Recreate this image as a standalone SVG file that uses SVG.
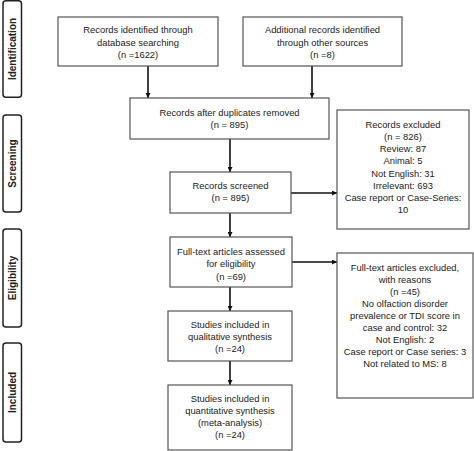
<svg xmlns="http://www.w3.org/2000/svg" width="474" height="451" viewBox="0 0 474 451">
<style>
.box{fill:#fff;stroke:#555;stroke-width:1.2}
.side{fill:#fff;stroke:#222;stroke-width:1.5}
.t{font-family:"Liberation Sans",Arial,sans-serif;font-size:9.4px;fill:#222;text-anchor:middle}
.st{font-family:"Liberation Sans",Arial,sans-serif;font-size:10px;font-weight:bold;fill:#222;text-anchor:middle}
.c{stroke:#111;stroke-width:1.6;fill:none;marker-end:url(#ah)}
</style>
<defs>
<marker id="ah" viewBox="0 0 10 10" refX="10" refY="5" markerWidth="5" markerHeight="5" markerUnits="userSpaceOnUse" orient="auto">
<path d="M0,0 L10,5 L0,10 z" fill="#111"/>
</marker>
</defs>
<rect width="474" height="451" fill="#fff"/>
<g id="side-identification"><rect class="side" x="3" y="0.8" width="18.5" height="96.5" rx="3"/><text class="st" transform="translate(15.5,49) rotate(-90)">Identification</text></g>
<g id="side-screening"><rect class="side" x="3" y="115" width="18.5" height="97" rx="3"/><text class="st" transform="translate(15.5,163.5) rotate(-90)">Screening</text></g>
<g id="side-eligibility"><rect class="side" x="3" y="229" width="18.5" height="98" rx="3"/><text class="st" transform="translate(15.5,278) rotate(-90)">Eligibility</text></g>
<g id="side-included"><rect class="side" x="3" y="343" width="18.5" height="99" rx="3"/><text class="st" transform="translate(15.5,392.5) rotate(-90)">Included</text></g>
<g id="connectors">
<path class="c" d="M148,66 V98"/>
<path class="c" d="M312,66 V98"/>
<path class="c" d="M230,139 V172"/>
<path class="c" d="M230,213 V237"/>
<path class="c" d="M230,287 V311"/>
<path class="c" d="M230,361 V385"/>
<path class="c" d="M291,193 H337"/>
<path class="c" d="M292,262 H337"/>
</g>
<g id="n1"><rect class="box" x="58" y="17" width="160" height="49"/><text class="t" x="138" y="33">Records identified through</text><text class="t" x="138" y="45.5">database searching</text><text class="t" x="138" y="57.5">(n =1622)</text></g>
<g id="n2"><rect class="box" x="243" y="17" width="159" height="49"/><text class="t" x="322.5" y="33">Additional records identified</text><text class="t" x="322.5" y="45.5">through other sources</text><text class="t" x="322.5" y="57.5">(n =8)</text></g>
<g id="n3"><rect class="box" x="130" y="98" width="199" height="41"/><text class="t" x="229.5" y="115.5">Records after duplicates removed</text><text class="t" x="229.5" y="127.5">(n = 895)</text></g>
<g id="n4"><rect class="box" x="170" y="172" width="121" height="41"/><text class="t" x="230.5" y="188.5">Records screened</text><text class="t" x="230.5" y="200.5">(n = 895)</text></g>
<g id="n5"><rect class="box" x="170" y="237" width="122" height="50"/><text class="t" x="231" y="254.5">Full-text articles assessed</text><text class="t" x="231" y="266.5">for eligibility</text><text class="t" x="231" y="279.5">(n =69)</text></g>
<g id="n6"><rect class="box" x="168" y="311" width="124" height="50"/><text class="t" x="230" y="327.5">Studies included in</text><text class="t" x="230" y="340">qualitative synthesis</text><text class="t" x="230" y="352">(n =24)</text></g>
<g id="n7"><rect class="box" x="168" y="385" width="124" height="65"/><text class="t" x="230" y="401.5">Studies included in</text><text class="t" x="230" y="413.5">quantitative synthesis</text><text class="t" x="230" y="425.5">(meta-analysis)</text><text class="t" x="230" y="437.5">(n =24)</text></g>
<g id="x1"><rect class="box" x="337" y="110" width="132" height="119"/>
<text class="t" x="403" y="127.5">Records excluded</text>
<text class="t" x="403" y="139.5">(n = 826)</text>
<text class="t" x="403" y="151.5">Review: 87</text>
<text class="t" x="403" y="164">Animal: 5</text>
<text class="t" x="403" y="176.5">Not English: 31</text>
<text class="t" x="403" y="188.5">Irrelevant: 693</text>
<text class="t" x="403" y="200.5">Case report or Case-Series:</text>
<text class="t" x="403" y="212.5">10</text></g>
<g id="x2"><rect class="box" x="337" y="253" width="136" height="145"/>
<text class="t" x="405" y="270.5">Full-text articles excluded,</text>
<text class="t" x="405" y="282.5">with reasons</text>
<text class="t" x="405" y="294.5">(n =45)</text>
<text class="t" x="405" y="307">No olfaction disorder</text>
<text class="t" x="405" y="319">prevalence or TDI score in</text>
<text class="t" x="405" y="331">case and control: 32</text>
<text class="t" x="405" y="343">Not English: 2</text>
<text class="t" x="405" y="355">Case report or Case series: 3</text>
<text class="t" x="405" y="367">Not related to MS: 8</text></g>
</svg>
